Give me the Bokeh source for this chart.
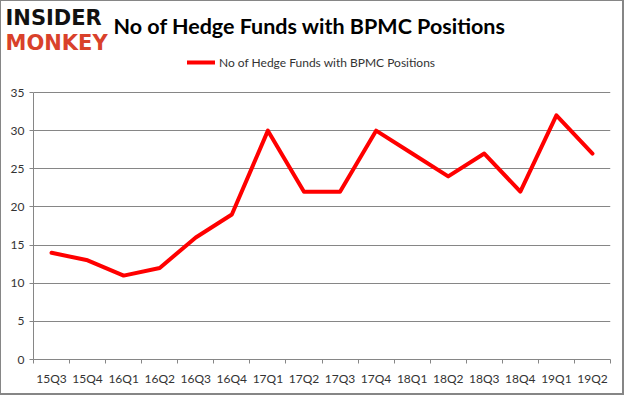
from bokeh.plotting import figure
from bokeh.layouts import column
from bokeh.models import Range1d, FixedTicker, Label, Legend, LegendItem
from bokeh.embed import file_html
from bokeh.resources import INLINE

quarters = ["15Q3", "15Q4", "16Q1", "16Q2", "16Q3", "16Q4", "17Q1", "17Q2",
            "17Q3", "17Q4", "18Q1", "18Q2", "18Q3", "18Q4", "19Q1", "19Q2"]
funds = [14, 13, 11, 12, 16, 19, 30, 22, 22, 30, 27, 24, 27, 22, 32, 27]
y_ticks = [0, 5, 10, 15, 20, 25, 30, 35]
series_name = "No of Hedge Funds with BPMC Positions"
title_text = "No of Hedge Funds with BPMC Positions"

GRAY = "#868686"
TXT = "#333333"
FONT = "Lato"
W = 621
HH = 60
OVERLAP = 7

# ---------- header (logo + title) ----------
hdr = figure(width=W, height=HH, output_backend="svg", toolbar_location=None,
             title=None,
             x_range=Range1d(0, W), y_range=Range1d(0, HH),
             x_axis_type=None, y_axis_type=None,
             min_border=0, min_border_left=0, min_border_right=0,
             min_border_top=0, min_border_bottom=0)
hdr.frame_align = False
hdr.outline_line_color = None
hdr.xgrid.visible = False
hdr.ygrid.visible = False
hdr.add_layout(Label(x=4, y=HH - 16.5, text="INSIDER", text_font="DejaVu Sans",
                     text_font_style="bold", text_font_size="21px",
                     text_color="#111111", text_baseline="alphabetic"))
hdr.add_layout(Label(x=4, y=HH - 41.5, text="MONKEY", text_font="DejaVu Sans",
                     text_font_style="bold", text_font_size="21px",
                     text_color="#d9412b", text_baseline="alphabetic"))
hdr.add_layout(Label(x=112, y=HH - 24.8, text=title_text, text_font=FONT,
                     text_font_style="bold", text_font_size="21.5px",
                     text_color="black", text_baseline="alphabetic"))

# ---------- chart ----------
n = len(quarters)
xs = [i + 0.5 for i in range(n)]
px_per_unit = 267 / 35.0
y_top = 35 + 38 / px_per_unit

p = figure(width=W, height=339, output_backend="svg", toolbar_location=None,
           title=None,
           x_range=Range1d(0, n), y_range=Range1d(0, y_top),
           min_border_left=32, min_border_right=12, min_border_top=0,
           min_border_bottom=34)
p.frame_align = False
p.margin = (-OVERLAP, 0, 0, 0)
p.outline_line_color = None
p.background_fill_alpha = 0
p.border_fill_alpha = 0

r = p.line(xs, funds, line_color="#ff0000", line_width=4,
           line_join="round", line_cap="round")

xa = p.xaxis[0]
xa.ticker = FixedTicker(ticks=xs, minor_ticks=list(range(n + 1)))
xa.major_label_overrides = {x: q for x, q in zip(xs, quarters)}
xa.major_tick_line_color = None
xa.major_tick_out = 0
xa.major_tick_in = 0
xa.minor_tick_out = 4
xa.minor_tick_in = 0
xa.minor_tick_line_color = GRAY
xa.axis_line_color = GRAY
xa.major_label_standoff = 7
xa.major_label_text_font = FONT
xa.major_label_text_font_size = "12px"
xa.major_label_text_color = TXT

ya = p.yaxis[0]
ya.ticker = FixedTicker(ticks=y_ticks, minor_ticks=[])
ya.bounds = (0, 35)
ya.major_tick_out = 4
ya.major_tick_in = 0
ya.major_tick_line_color = GRAY
ya.minor_tick_line_color = None
ya.axis_line_color = GRAY
ya.major_label_standoff = 5
ya.major_label_text_font = FONT
ya.major_label_text_font_size = "12px"
ya.major_label_text_color = TXT

p.xgrid.grid_line_color = None
p.ygrid.ticker = FixedTicker(ticks=y_ticks)
p.ygrid.grid_line_color = GRAY
p.ygrid.grid_line_width = 1

legend = Legend(items=[LegendItem(label=series_name, renderers=[r])],
                location=(154, 289), orientation="horizontal",
                glyph_width=28, glyph_height=16, label_height=16,
                label_standoff=4, padding=0, margin=0, spacing=0,
                border_line_color=None, background_fill_alpha=0,
                label_text_font=FONT, label_text_font_size="12px",
                label_text_color=TXT)
p.add_layout(legend, "center")

layout = column(hdr, p, spacing=0,
                styles={"border-style": "solid", "border-color": GRAY,
                        "border-width": "1px 2px 2px 1px",
                        "background-color": "white"})

open("out.html", "w").write(file_html(layout, INLINE))
